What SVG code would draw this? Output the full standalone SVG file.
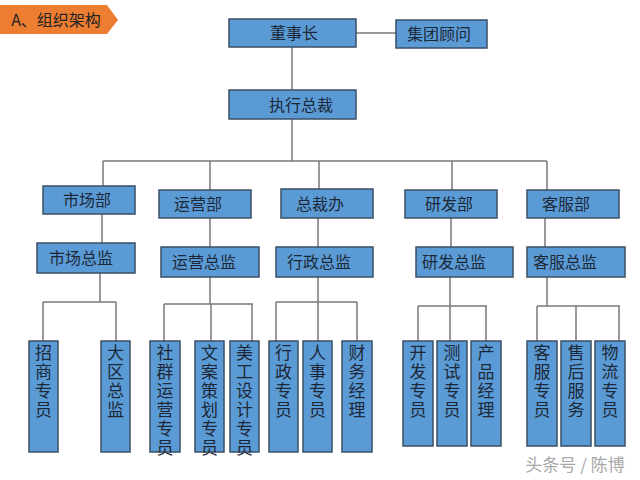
<svg xmlns="http://www.w3.org/2000/svg" width="640" height="480" viewBox="0 0 640 480">
<style>
.box{fill:#5b9bd5;stroke:#3a4f66;stroke-width:1.5}
.t{font-family:"Noto Sans CJK SC","Noto Sans",sans-serif;font-size:16px;fill:#1c2838;text-anchor:middle}
.v{font-family:"Noto Sans CJK SC","Noto Sans",sans-serif;font-size:17px;fill:#1c2838;writing-mode:vertical-rl;text-orientation:upright;letter-spacing:2px;text-anchor:start}
.ln{stroke:#7a7a7a;stroke-width:1.5;fill:none}
</style>
<rect width="640" height="480" fill="#ffffff"/>
<g id="banner">
<polygon points="0,5 107,5 118,20 107,34 0,34" fill="#ed7d31"/>
<text x="56" y="26" class="t" style="fill:#222">A、组织架构</text>
</g>
<g id="connectors">
<path class="ln" d="M356,33H396"/>
<path class="ln" d="M292,47V90M292,119V161M103,161H547M103,161V186M210,161V190M319,161V190M452,161V190M547,161V190"/>
<path class="ln" d="M102,214V243M210,218V247M318,218V247M451,218V247M545,218V247"/>
<path class="ln" d="M100,273V302M43,302H116M43,302V341M116,302V341"/>
<path class="ln" d="M210,277V304M164,304H253M164,304V341M211,304V341M252,304V341"/>
<path class="ln" d="M318,277V302M276,302H357M276,302V341M318,302V341M357,302V341"/>
<path class="ln" d="M450,277V306M418,306H487M418,306V341M450,306V341M486,306V341"/>
<path class="ln" d="M547,277V306M537,306H620M537,306V341M576,306V341M619,306V341"/>
</g>
<g id="n-chairman"><rect class="box" x="229" y="19" width="127" height="28"/><text class="t" x="294" y="39">董事长</text></g>
<g id="n-advisor"><rect class="box" x="396" y="20" width="91" height="28"/><text class="t" x="439" y="40">集团顾问</text></g>
<g id="n-ceo"><rect class="box" x="229" y="90" width="127" height="29"/><text class="t" x="301" y="111">执行总裁</text></g>
<g id="n-mkt"><rect class="box" x="43" y="186" width="92" height="28"/><text class="t" x="87" y="206">市场部</text></g>
<g id="n-ops"><rect class="box" x="159" y="190" width="92" height="28"/><text class="t" x="198" y="210">运营部</text></g>
<g id="n-office"><rect class="box" x="281" y="189" width="92" height="29"/><text class="t" x="320" y="210">总裁办</text></g>
<g id="n-rd"><rect class="box" x="405" y="190" width="92" height="28"/><text class="t" x="449" y="210">研发部</text></g>
<g id="n-cs"><rect class="box" x="527" y="190" width="92" height="28"/><text class="t" x="566" y="210">客服部</text></g>
<g id="n-mktdir"><rect class="box" x="37" y="243" width="98" height="30"/><text class="t" x="81" y="264">市场总监</text></g>
<g id="n-opsdir"><rect class="box" x="161" y="247" width="98" height="30"/><text class="t" x="204" y="268">运营总监</text></g>
<g id="n-admdir"><rect class="box" x="276" y="247" width="97" height="30"/><text class="t" x="319" y="268">行政总监</text></g>
<g id="n-rddir"><rect class="box" x="416" y="247" width="97" height="30"/><text class="t" x="454" y="268">研发总监</text></g>
<g id="n-csdir"><rect class="box" x="527" y="247" width="98" height="30"/><text class="t" x="565" y="268">客服总监</text></g>
<g id="l1"><rect class="box" x="29" y="341" width="29" height="111"/><text class="v" x="43.5" y="344.5">招商专员</text></g>
<g id="l2"><rect class="box" x="101" y="341" width="29" height="111"/><text class="v" x="115.5" y="344.5">大区总监</text></g>
<g id="l3"><rect class="box" x="150" y="341" width="30" height="111"/><text class="v" x="165" y="344.5">社群运营专员</text></g>
<g id="l4"><rect class="box" x="195" y="341" width="29" height="111"/><text class="v" x="209.5" y="344.5">文案策划专员</text></g>
<g id="l5"><rect class="box" x="230" y="341" width="29" height="111"/><text class="v" x="244.5" y="344.5">美工设计专员</text></g>
<g id="l6"><rect class="box" x="269" y="341" width="29" height="111"/><text class="v" x="283.5" y="344.5">行政专员</text></g>
<g id="l7"><rect class="box" x="303" y="341" width="29" height="111"/><text class="v" x="317.5" y="344.5">人事专员</text></g>
<g id="l8"><rect class="box" x="342" y="341" width="30" height="111"/><text class="v" x="357" y="344.5">财务经理</text></g>
<g id="l9"><rect class="box" x="403" y="341" width="30" height="105"/><text class="v" x="418" y="344.5">开发专员</text></g>
<g id="l10"><rect class="box" x="437" y="341" width="30" height="105"/><text class="v" x="452" y="344.5">测试专员</text></g>
<g id="l11"><rect class="box" x="471" y="341" width="30" height="105"/><text class="v" x="486" y="344.5">产品经理</text></g>
<g id="l12"><rect class="box" x="527" y="341" width="30" height="105"/><text class="v" x="542" y="344.5">客服专员</text></g>
<g id="l13"><rect class="box" x="561" y="341" width="30" height="105"/><text class="v" x="576" y="344.5">售后服务</text></g>
<g id="l14"><rect class="box" x="595" y="341" width="30" height="105"/><text class="v" x="610" y="344.5">物流专员</text></g>
<text x="575" y="471" style="font-family:'Noto Sans CJK SC','Noto Sans',sans-serif;font-size:17px;fill:#a8a8a8;text-anchor:middle">头条号 / 陈博</text>
</svg>
